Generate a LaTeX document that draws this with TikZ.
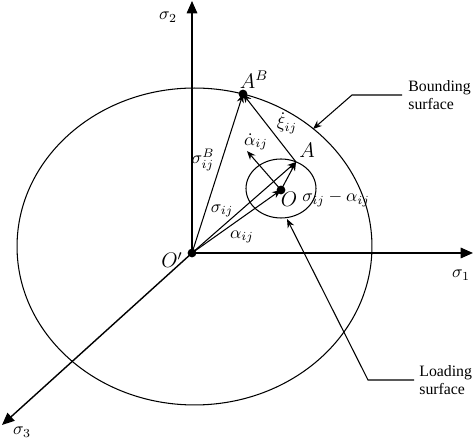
\documentclass[tikz,border=0pt]{standalone}
\usepackage{fontspec}
\setmainfont{Liberation Serif}
\usetikzlibrary{arrows.meta}
\begin{document}
\begin{tikzpicture}[x=0.02cm,y=-0.02cm,
    axis/.style={line width=0.8pt,-{Triangle[length=7pt,width=6pt]}},
    vec/.style={line width=0.6pt,-{Stealth[length=5pt,width=4pt]}},
    leader/.style={line width=0.6pt,-{Stealth[length=5pt,width=4pt]}},
    sym/.style={font=\large,inner sep=1pt},
    sub/.style={inner sep=0.5pt},
    note/.style={font=\fontsize{9}{10.5}\selectfont,align=left,anchor=west,inner sep=0pt}]
        \useasboundingbox (0,0) rectangle (474,438);
        \coordinate (Op) at (192,253);
        \coordinate (O) at (281,190);
        \coordinate (A) at (296,162);
        \coordinate (AB) at (243,94);
        \coordinate (s1) at (473,253);
        \coordinate (s2) at (192,1);
        \coordinate (s3) at (2,425);
        \coordinate (adot) at (247,151);
        % axes
        \draw[axis] (Op) -- (s1);
        \draw[axis] (Op) -- (s2);
        \draw[axis] (Op) -- (s3);
        \node at (461,275) {$\sigma_1$};
        \node at (168,17) {$\sigma_2$};
        \node at (22,432) {$\sigma_3$};
        % surfaces
        \draw[line width=0.6pt] (194.5,246.5) ellipse [x radius=3.55cm, y radius=3.17cm];
        \draw[line width=0.6pt] (281,188.5) ellipse [x radius=0.70cm, y radius=0.59cm];
        % vectors
        \draw[vec] (Op) -- (AB);
        \draw[vec] (A) -- (AB);
        \draw[vec] (Op) -- (A);
        \draw[vec] (Op) -- (O);
        \draw[vec] (O) -- (A);
        \draw[vec] (O) -- (adot);
        \fill (Op) circle (2.5pt);
        \fill (O) circle (2.5pt);
        \fill (AB) circle (2.5pt);
        \node[sym] at (172,260) {$O'$};
        \node[sym] at (254,80) {$A^B$};
        \node[sym] at (307,150) {$A$};
        \node[sym] at (289,199) {$O$};
        \node[sub] at (203,160) {$\sigma_{ij}^{B}$};
        \node[sub] at (287,123) {$\dot{\xi}_{ij}$};
        \node[sub] at (256,142) {$\dot{\alpha}_{ij}$};
        \node[sub] at (222,211) {$\sigma_{ij}$};
        \node[sub] at (242,237) {$\alpha_{ij}$};
        \node[sub] at (336,199) {$\sigma_{ij}-\alpha_{ij}$};
        % leaders
        \coordinate (bs) at (402,95);
        \coordinate (bk) at (352,95);
        \coordinate (bt) at (313,129);
        \draw[leader] (bs) -- (bk) -- (bt);
        \node[note] (bnd) at (408,95) {Bounding\\surface};
        \coordinate (ls) at (414,380);
        \coordinate (lk) at (368,380);
        \coordinate (lt) at (287,219);
        \draw[leader] (ls) -- (lk) -- (lt);
        \node[note] (ldg) at (419,380) {Loading\\surface};
    \end{tikzpicture}
\end{document}
